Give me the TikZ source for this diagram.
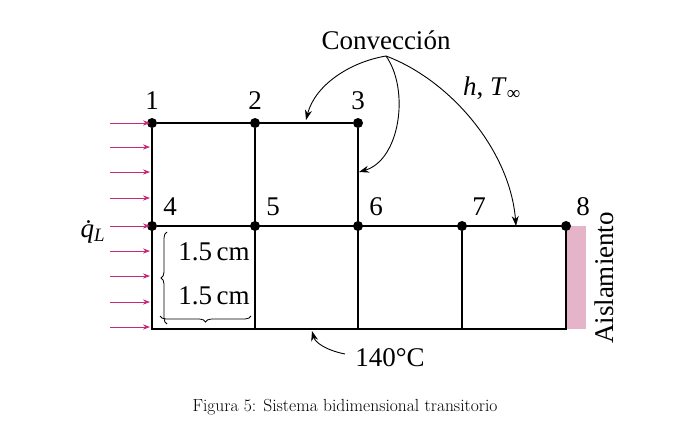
\documentclass[tikz,border=0pt]{standalone}
\usepackage{fontspec}
\newfontfamily\tms{Liberation Serif}
\usetikzlibrary{decorations.pathreplacing,arrows.meta}
\definecolor{qpink}{RGB}{200,40,120}
\definecolor{ins}{RGB}{230,180,200}
\begin{document}
\begin{tikzpicture}[x=1pt,y=-1pt,
  dot/.style={circle,fill=black,inner sep=0pt,minimum size=10pt},
  lab/.style={font=\tms\fontsize{27}{27}\selectfont},
  grid/.style={line width=1.5pt},
  qarr/.style={qpink,-{Stealth[length=7pt]},line width=0.9pt},
  carr/.style={-{Stealth[length=10pt,width=7pt]},line width=0.9pt}]
\useasboundingbox (0,0) rectangle (690,426);
\fill[ins] (566,226) rectangle (586,329);
\foreach \n/\x/\y in {1/152/123,2/255/123,3/358/123,4/152/226,5/255/226,6/358/226,7/462/226,8/566/226}
  \node[dot] (n\n) at (\x,\y) {};
\coordinate (b1) at (152,329); \coordinate (b2) at (255,329); \coordinate (b3) at (358,329);
\coordinate (b4) at (462,329); \coordinate (b5) at (566,329);
\draw[grid] (n1)--(n3)--(b3) (n1)--(b1)--(b5)--(n8)--(n4) (n2)--(b2) (n7)--(b4);
\foreach \n/\x/\y in {1/152/101,2/255/101,3/358/101,4/170/207,5/273/207,6/376/207,7/479/207,8/583/207}
  \node[lab] (l\n) at (\x,\y) {\n};
\foreach \y [count=\i] in {123,147,172,198,226,251,276,302,327}{
  \coordinate (qs\i) at (110,\y); \coordinate (qe\i) at (150,\y);
  \draw[qarr] (qs\i)--(qe\i);}
\node[lab,inner sep=0pt] (q) at (93,232) {\itshape\.q\textsubscript{L}};
\node[lab] (conv) at (386,40) {Convección};
\node[lab] (h) at (492,88) {\textit{h}, \textit{T}\textsubscript{∞}};
\coordinate (c0) at (386,56);
\coordinate (t1) at (306,120); \coordinate (t2) at (359,172); \coordinate (t3) at (516,226);
\draw[carr] (c0) .. controls (350,62) and (315,85) .. (t1);
\draw[carr] (c0) .. controls (410,90) and (400,160) .. (t2);
\draw[carr] (c0) .. controls (450,80) and (510,150) .. (t3);
\node[lab] (temp) at (390,358) {140°C};
\coordinate (ts) at (345,354); \coordinate (te) at (312,331);
\draw[carr] (ts) .. controls (325,350) and (315,342) .. (te);
\node[lab,rotate=90] (ais) at (604,278) {Aislamiento};
\coordinate (v1) at (167,232); \coordinate (v2) at (167,324);
\draw[decorate,decoration={brace,amplitude=6pt},line width=0.8pt] (v2)--(v1);
\node[lab] (d1) at (214,252) {1.5\,cm};
\coordinate (h1) at (160,316); \coordinate (h2) at (251,316);
\draw[decorate,decoration={brace,amplitude=6pt},line width=0.8pt] (h2)--(h1);
\node[lab] (d2) at (214,296) {1.5\,cm};
\node[font=\fontsize{17.5}{17.5}\selectfont] (cap) at (345,407) {Figura 5: Sistema bidimensional transitorio};
\end{tikzpicture}
\end{document}
